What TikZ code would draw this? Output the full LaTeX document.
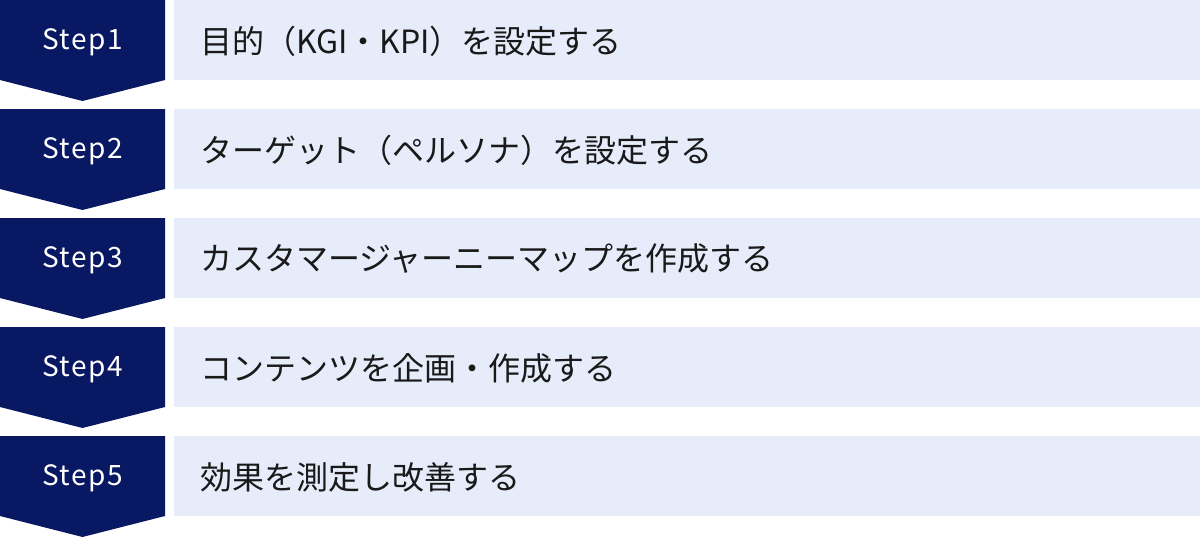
\documentclass[tikz,border=0pt]{standalone}
\usepackage{fontspec}
\newfontfamily\jp{Noto Sans CJK JP}
\newfontfamily\stepfont[LetterSpace=5]{Noto Sans CJK JP}
\definecolor{navy}{RGB}{8,24,98}
\definecolor{pale}{RGB}{230,236,250}
\definecolor{ink}{RGB}{25,25,25}
\begin{document}
\begin{tikzpicture}[x=1pt,y=-1pt,
  stepshape/.style={fill=navy,draw=none},
  palebox/.style={fill=pale,draw=none},
  steplabel/.style={text=white,font=\stepfont\fontsize{28}{32}\selectfont,inner sep=0pt,anchor=center},
  desc/.style={text=ink,font=\jp\fontsize{32}{38}\selectfont,inner sep=0pt,anchor=west}]
\useasboundingbox (0,0) rectangle (1200,538);
\foreach \i/\t in {1/{目的（KGI・KPI）を設定する},2/{ターゲット（ペルソナ）を設定する},3/{カスタマージャーニーマップを作成する},4/{コンテンツを企画・作成する},5/{効果を測定し改善する}}{
  \pgfmathsetmacro{\top}{(\i-1)*109}
  \fill[stepshape] (0,\top) -- (165,\top) -- (165,\top+80) -- (82.5,\top+101) -- (0,\top+80) -- cycle;
  \fill[palebox] (174,\top) rectangle (1200,\top+80);
  \node[steplabel] (s\i) at (82.5,\top+42) {Step\i};
  \node[desc] (d\i) at (200,\top+41) {\t};
}
\end{tikzpicture}
\end{document}
